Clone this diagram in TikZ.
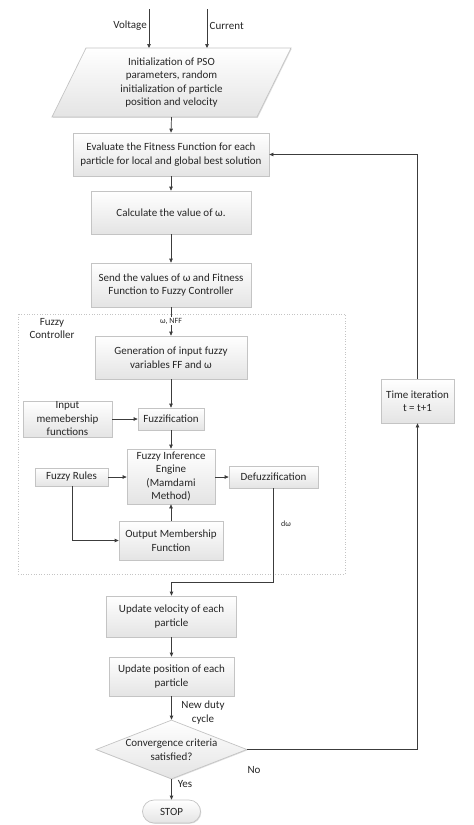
\documentclass[tikz,border=0pt]{standalone}
\usepackage{fontspec}
\setmainfont{Carlito}
\usetikzlibrary{arrows.meta,shapes.geometric,shadows}
\definecolor{boxline}{HTML}{C4C4C4}
\definecolor{boxbot}{HTML}{E4E4E4}
\definecolor{lncol}{HTML}{3C3C3C}
\tikzset{
  pbox/.style={draw=boxline, line width=0.7pt, top color=white, bottom color=boxbot,
    drop shadow={shadow xshift=0.8pt, shadow yshift=-0.8pt, opacity=0.25},
    align=center, inner sep=0pt, font=\fontsize{11}{13.5}\selectfont, text=black!85},
  conn/.style={draw=lncol, line width=0.7pt, -{Triangle[length=4pt,width=3.5pt]}},
  lbl/.style={font=\fontsize{11}{13.5}\selectfont, text=black!85, inner sep=0pt, align=center},
  slbl/.style={font=\fontsize{8}{9}\selectfont, text=black!85, inner sep=0pt}
}
\begin{document}
\begin{tikzpicture}[x=1pt,y=-1pt]
\useasboundingbox (0,0) rectangle (474,825);
% dotted fuzzy controller region
\draw[boxline, dotted, line width=0.6pt] (18,314) rectangle (345,574);
\node[lbl] (fclabel) at (52,328.5) {Fuzzy\\Controller};
% inputs
\coordinate (vtop) at (149,9);
\coordinate (ctop) at (207,9);
\coordinate (vbot) at (149,48);
\coordinate (cbot) at (207,48);
\node[lbl, anchor=east] (vlab) at (147,26) {Voltage};
\node[lbl, anchor=west] (clab) at (209.5,26) {Current};
% parallelogram
\path[draw=boxline, line width=0.7pt, top color=white, bottom color=boxbot,
  drop shadow={shadow xshift=0.8pt, shadow yshift=-0.8pt, opacity=0.25}]
  (86,48) -- (291,48) -- (257,117) -- (52,117) -- cycle;
\node[lbl, minimum height=69pt, minimum width=150pt] (init) at (171.5,82.5)
  {Initialization of PSO\\parameters, random\\initialization of particle\\position and velocity};
\draw[conn] (vtop) -- (vbot);
\draw[conn] (ctop) -- (cbot);
% boxes
\node[pbox, minimum width=196pt, minimum height=43pt] (eval) at (171,154.5)
  {Evaluate the Fitness Function for each\\particle for local and global best solution};
\node[pbox, minimum width=160pt, minimum height=43pt] (calc) at (171,212.5)
  {Calculate the value of ω.};
\node[pbox, minimum width=160pt, minimum height=44pt] (send) at (171,285)
  {Send the values of ω and Fitness\\Function to Fuzzy Controller};
\node[pbox, minimum width=152pt, minimum height=43pt] (gen) at (171,357.5)
  {Generation of input fuzzy\\variables FF and ω};
\node[pbox, minimum width=66pt, minimum height=22pt] (fuzz) at (171,419)
  {Fuzzification};
\node[pbox, minimum width=89pt, minimum height=36pt] (inmf) at (67.5,419)
  {Input\\memebership\\functions};
\node[pbox, minimum width=88pt, minimum height=55pt] (fie) at (171,476.5)
  {Fuzzy Inference\\Engine\\(Mamdami\\Method)};
\node[pbox, minimum width=73pt, minimum height=18pt] (rules) at (71.5,477)
  {Fuzzy Rules};
\node[pbox, minimum width=89pt, minimum height=22pt] (defuzz) at (273.5,477)
  {Defuzzification};
\node[pbox, minimum width=104pt, minimum height=39pt] (omf) at (171,540.5)
  {Output Membership\\Function};
\node[pbox, minimum width=73pt, minimum height=44pt] (time) at (417.5,401)
  {Time iteration\\t = t+1};
\node[pbox, minimum width=130pt, minimum height=41pt] (vel) at (171.5,616.5)
  {Update velocity of each\\particle};
\node[pbox, minimum width=125pt, minimum height=39pt] (pos) at (171.5,676.5)
  {Update position of each\\particle};
\node[pbox, diamond, aspect=2.56, minimum width=151pt, minimum height=59pt, inner sep=0pt] (conv) at (171.5,749.5)
  {};
\node[lbl] (convtxt) at (171.5,749.5) {Convergence criteria\\satisfied?};
\node[pbox, rounded corners=11.5pt, minimum width=58pt, minimum height=23pt] (stop) at (171.5,811.5)
  {STOP};
% connectors
\draw[conn] (init.south) -- (eval.north);
\draw[conn] (eval.south) -- (calc.north);
\draw[conn] (calc.south) -- (send.north);
\draw[conn] (send.south) -- (gen.north);
\node[slbl, fill=white, inner sep=0.5pt] (wnff) at (171,321) {ω, NFF};
\draw[conn] (gen.south) -- (fuzz.north);
\draw[conn] (inmf.east) -- (fuzz.west);
\draw[conn] (fuzz.south) -- (fie.north);
\draw[conn] (rules.east) -- (rules.east -| fie.west);
\draw[conn] (fie.east |- defuzz.west) -- (defuzz.west);
\draw[conn] (omf.north) -- (fie.south);
\coordinate (rdown) at (72,486);
\draw[conn] (rdown) |- (omf.west);
\coordinate (djoin) at (273.5,582);
\draw[conn] (defuzz.south) -- (djoin) -| (vel.north);
\node[slbl] (dw) at (286,524) {dω};
\draw[conn] (vel.south) -- (pos.north);
\draw[conn] (pos.south) -- (conv.north);
\node[lbl] (newduty) at (203,712.5) {New duty\\cycle};
\draw[conn] (conv.south) -- (stop.north);
\node[lbl] (yes) at (185,784) {Yes};
\node[lbl] (no) at (254,770) {No};
\draw[conn] (conv.east) -| (time.south);
\draw[conn] (time.north) |- (eval.east);
\end{tikzpicture}
\end{document}
